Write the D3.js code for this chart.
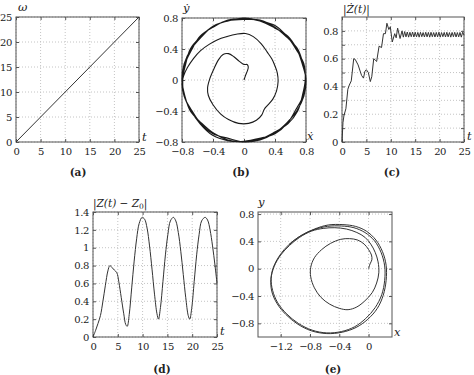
<!DOCTYPE html>
<html>
<head>
<meta charset="utf-8">
<script src="https://cdn.jsdelivr.net/npm/d3@7"></script>
<style>
  body { margin: 0; background: #fff; }
  svg text { font-size: 11px; fill: #222; }
  .grid line { stroke: #c4c4c4; stroke-dasharray: 1,2; }
  .frame { fill: none; stroke: #555; stroke-width: 1; }
  .tick line { stroke: #555; }
  .curve { fill: none; stroke: #333; stroke-width: 1; }
  .cycle { fill: none; stroke: #1a1a1a; stroke-width: 1.1; }
  .lbl { font-style: italic; font-size: 11.5px; }
  .cap { font-weight: bold; font-size: 10.5px; }
</style>
</head>
<body>
<svg id="fig" width="474" height="375"></svg>
<script>

// (a) omega against t
var aT = [0, 25];
var aOmega = [0, 25];
var aTicks = [0, 5, 10, 15, 20, 25];

// (b) velocity plane, spiral then the limit cycle (three passes)
var bX = [0, 0.02, 0.045, 0.055, 0.04, 0.0, -0.06, -0.13, -0.2, -0.27, -0.33, -0.39, -0.44, -0.47, -0.46, -0.4, -0.3, -0.2, -0.07, 0.06, 0.16, 0.23, 0.26, 0.3, 0.37, 0.42, 0.44, 0.43, 0.4, 0.36, 0.3, 0.22, 0.12, 0.02, -0.1, -0.22, -0.34, -0.45, -0.56, -0.65, -0.73, -0.78, -0.8,
  -0.773, -0.684, -0.566, -0.41, -0.21, 0, 0.202, 0.40, 0.559, 0.667, 0.763, 0.80, 0.753, 0.684, 0.566, 0.39, 0.204, 0, -0.204, -0.40, -0.552, -0.684, -0.773, -0.80,
  -0.763, -0.693, -0.552, -0.395, -0.207, 0, 0.204, 0.39, 0.566, 0.693, 0.753, 0.79, 0.773, 0.675, 0.559, 0.405, 0.204, 0, -0.207, -0.395, -0.566, -0.675, -0.763, -0.79,
  -0.773, -0.675, -0.559, -0.40, -0.202, 0, 0.207, 0.395, 0.552, 0.684, 0.773, 0.80, 0.763, 0.693, 0.552, 0.395, 0.207, 0, -0.204, -0.40, -0.559, -0.693, -0.753, -0.80];
var bY = [0, 0.06, 0.12, 0.17, 0.2, 0.2, 0.24, 0.3, 0.34, 0.33, 0.26, 0.14, 0.02, -0.1, -0.2, -0.32, -0.44, -0.51, -0.56, -0.56, -0.52, -0.45, -0.38, -0.33, -0.25, -0.14, -0.02, 0.09, 0.18, 0.27, 0.36, 0.47, 0.56, 0.6, 0.59, 0.56, 0.52, 0.46, 0.38, 0.28, 0.16, 0.05, -0.05,
  -0.207, -0.395, -0.566, -0.71, -0.782, -0.79, -0.753, -0.693, -0.559, -0.385, -0.204, 0, 0.202, 0.395, 0.566, 0.675, 0.763, 0.80, 0.763, 0.693, 0.552, 0.395, 0.207, 0,
  -0.204, -0.40, -0.552, -0.684, -0.773, -0.80, -0.763, -0.675, -0.566, -0.40, -0.202, 0, 0.207, 0.39, 0.559, 0.701, 0.763, 0.79, 0.773, 0.684, 0.566, 0.39, 0.204, 0,
  -0.207, -0.39, -0.559, -0.693, -0.753, -0.80, -0.773, -0.684, -0.552, -0.395, -0.207, 0, 0.204, 0.40, 0.552, 0.684, 0.773, 0.78, 0.763, 0.693, 0.559, 0.40, 0.202, 0];
var bTicks = [-0.8, -0.4, 0, 0.4, 0.8];

// (c) |Zdot(t)|
var cT = [0, 0.2, 0.4, 0.8, 1.2, 1.5, 1.9, 2.4, 2.7, 3.3, 4.0, 4.4, 4.7, 5.0, 5.4, 5.8, 6.1, 6.5, 6.8, 7.1, 7.6, 8.1, 8.5, 8.9, 9.2, 9.6, 9.9, 10.3, 10.8, 11.1, 11.4, 11.9,
  12.3, 12.57, 12.84, 13.11, 13.38, 13.65, 13.92, 14.19, 14.46, 14.73, 15.0, 15.27, 15.54, 15.81, 16.08, 16.35, 16.62, 16.89, 17.16, 17.43, 17.7, 17.97, 18.24, 18.51,
  18.78, 19.05, 19.32, 19.59, 19.86, 20.13, 20.4, 20.67, 20.94, 21.21, 21.48, 21.75, 22.02, 22.29, 22.56, 22.83, 23.1, 23.37, 23.64, 23.91, 24.18, 24.45, 24.72, 25.0];
var cV = [0, 0.14, 0.19, 0.24, 0.38, 0.41, 0.44, 0.6, 0.595, 0.555, 0.48, 0.46, 0.51, 0.52, 0.5, 0.435, 0.47, 0.6, 0.59, 0.58, 0.69, 0.68, 0.78, 0.78, 0.855, 0.81, 0.83, 0.72, 0.78, 0.75, 0.82, 0.745,
  0.80, 0.755, 0.795, 0.757, 0.792, 0.755, 0.79, 0.758, 0.792, 0.756, 0.79, 0.757, 0.789, 0.755, 0.79, 0.758, 0.788, 0.756, 0.79, 0.757, 0.789, 0.755, 0.79, 0.758,
  0.788, 0.756, 0.789, 0.757, 0.79, 0.755, 0.788, 0.758, 0.789, 0.756, 0.79, 0.757, 0.788, 0.755, 0.789, 0.758, 0.79, 0.756, 0.788, 0.757, 0.789, 0.755, 0.79, 0.77];
var cXTicks = [0, 5, 10, 15, 20, 25];
var cYTicks = [0, 0.1, 0.2, 0.3, 0.4, 0.5, 0.6, 0.7, 0.8];

// (d) |Z(t) - Z0|
var dT = [0, 0.5, 1, 1.5, 2, 2.5, 3, 3.4, 3.8, 4.3, 4.8, 5.2, 5.7, 6.2, 6.6, 6.9, 7.3, 7.8, 8.3, 8.8, 9.3, 9.9, 10.4, 10.9, 11.4, 11.9, 12.4, 12.9, 13.2, 13.6, 14.1, 14.6, 15.1, 15.6, 16.2, 16.7, 17.2, 17.7, 18.2, 18.7, 19.2, 19.5, 19.9, 20.4, 20.9, 21.4, 21.9, 22.6, 23.1, 23.6, 24.1, 24.6, 25];
var dV = [0, 0.07, 0.15, 0.24, 0.4, 0.58, 0.74, 0.8, 0.78, 0.75, 0.72, 0.62, 0.44, 0.26, 0.14, 0.12, 0.25, 0.55, 0.85, 1.1, 1.27, 1.34, 1.32, 1.22, 1.02, 0.76, 0.48, 0.26, 0.2, 0.33, 0.62, 0.92, 1.15, 1.3, 1.34, 1.3, 1.17, 0.96, 0.7, 0.44, 0.24, 0.2, 0.32, 0.62, 0.92, 1.15, 1.3, 1.34, 1.31, 1.2, 1.02, 0.8, 0.6];
var dXTicks = [0, 5, 10, 15, 20, 25];
var dYTicks = [0, 0.2, 0.4, 0.6, 0.8, 1, 1.2, 1.4];

// (e) position plane
var eX = [0, 0.02, 0.045, 0.04, 0.0, -0.06, -0.15, -0.26, -0.38, -0.52, -0.64, -0.74, -0.79, -0.79, -0.74, -0.65, -0.53, -0.4, -0.28, -0.16, -0.05, 0.05, 0.11, 0.14, 0.13, 0.09, 0.03, -0.05, -0.16, -0.3, -0.46, -0.62,
  -0.78, -0.94, -1.08, -1.2, -1.29, -1.33, -1.31, -1.24, -1.12, -0.96, -0.77, -0.57, -0.37, -0.19, -0.04, 0.09, 0.18, 0.22, 0.22, 0.17, 0.08, -0.05, -0.2, -0.37, -0.56,
  -0.75, -0.93, -1.09, -1.21, -1.3, -1.335, -1.32, -1.25, -1.13, -0.97, -0.78, -0.57, -0.36, -0.17, -0.01, 0.12, 0.2, 0.24, 0.24, 0.19, 0.1, -0.03, -0.18, -0.35, -0.55, -0.74, -0.93, -1.09];
var eY = [0, 0.07, 0.13, 0.2, 0.28, 0.36, 0.42, 0.44, 0.43, 0.37, 0.28, 0.16, 0.02, -0.12, -0.28, -0.42, -0.52, -0.58, -0.6, -0.56, -0.47, -0.35, -0.21, -0.06, 0.1, 0.24, 0.36, 0.46, 0.53, 0.58, 0.6, 0.59,
  0.55, 0.46, 0.34, 0.2, 0.03, -0.14, -0.32, -0.5, -0.66, -0.8, -0.9, -0.94, -0.92, -0.85, -0.73, -0.57, -0.38, -0.17, 0.04, 0.24, 0.41, 0.53, 0.6, 0.625, 0.62,
  0.57, 0.48, 0.35, 0.2, 0.02, -0.16, -0.34, -0.51, -0.67, -0.81, -0.91, -0.95, -0.93, -0.86, -0.74, -0.58, -0.39, -0.17, 0.05, 0.25, 0.42, 0.55, 0.62, 0.645, 0.64, 0.58, 0.48, 0.35];
var eXTicks = [-1.2, -0.8, -0.4, 0];
var eYTicks = [-0.8, -0.4, 0, 0.4, 0.8];

var svg = d3.select("#fig");
var serif = "'DejaVu Serif', serif";

function fmt(d) {
  var s = String(+Math.abs(d).toFixed(2));
  return (d < 0 ? "\u2212" : "") + s;
}

// builds one framed panel with dotted grid and inward ticks
function panel(o) {
  var g = svg.append("g").attr("transform", "translate(" + o.left + "," + o.top + ")");
  var x = d3.scaleLinear().domain(o.xDomain).range([0, o.w]);
  var y = d3.scaleLinear().domain(o.yDomain).range([o.h, 0]);

  var grid = g.append("g").attr("class", "grid");
  grid.selectAll(".gx").data(o.xTicks).enter().append("line")
    .attr("x1", function(d) { return x(d); }).attr("x2", function(d) { return x(d); })
    .attr("y1", 0).attr("y2", o.h);
  grid.selectAll(".gy").data(o.yTicks).enter().append("line")
    .attr("y1", function(d) { return y(d); }).attr("y2", function(d) { return y(d); })
    .attr("x1", 0).attr("x2", o.w);

  var yFmt = o.yFmt || fmt;
  g.append("g").attr("transform", "translate(0," + o.h + ")")
    .call(d3.axisBottom(x).tickValues(o.xTicks).tickSize(-3).tickPadding(6).tickFormat(fmt));
  g.append("g")
    .call(d3.axisTop(x).tickValues(o.xTicks).tickSize(-3).tickFormat(""));
  g.append("g")
    .call(d3.axisLeft(y).tickValues(o.yTicks).tickSize(-3).tickPadding(4).tickFormat(yFmt));
  g.append("g").attr("transform", "translate(" + o.w + ",0)")
    .call(d3.axisRight(y).tickValues(o.yTicks).tickSize(-3).tickFormat(""));
  g.selectAll(".domain").remove();
  g.selectAll("text").style("font-family", serif).style("font-size", "10px").style("letter-spacing", "-0.4px");

  g.append("rect").attr("class", "frame").attr("width", o.w).attr("height", o.h);
  return { g: g, x: x, y: y };
}

function drawCurve(p, xs, ys, curve, cls) {
  var pts = xs.map(function(d, i) { return [d, ys[i]]; });
  var line = d3.line()
    .x(function(d) { return p.x(d[0]); })
    .y(function(d) { return p.y(d[1]); })
    .curve(curve);
  p.g.append("path").datum(pts).attr("class", cls || "curve").attr("d", line);
}

// (a)
var pa = panel({ left: 16, top: 17, w: 123, h: 125, xDomain: [0, 25], yDomain: [0, 25], xTicks: aTicks, yTicks: aTicks });
drawCurve(pa, aT, aOmega, d3.curveLinear);

// (b)
var pb = panel({ left: 182, top: 18, w: 124, h: 124, xDomain: [-0.8, 0.8], yDomain: [-0.8, 0.8], xTicks: bTicks, yTicks: bTicks });
drawCurve(pb, bX, bY, d3.curveCatmullRom, "cycle");

// (c)
var pc = panel({ left: 342, top: 17, w: 122, h: 125, xDomain: [0, 25], yDomain: [0, 0.9], xTicks: cXTicks, yTicks: cYTicks,
  yFmt: function(d) { return Math.round(d * 10) % 2 === 0 ? fmt(d) : ""; } });
drawCurve(pc, cT, cV, d3.curveLinear);

// (d)
var pd = panel({ left: 93, top: 212, w: 124, h: 125, xDomain: [0, 25], yDomain: [0, 1.4], xTicks: dXTicks, yTicks: dYTicks });
drawCurve(pd, dT, dV, d3.curveCatmullRom);

// (e)
var pe = panel({ left: 258, top: 212, w: 134, h: 125, xDomain: [-1.51, 0.32], yDomain: [-1.0, 0.83], xTicks: eXTicks, yTicks: eYTicks });
drawCurve(pe, eX, eY, d3.curveCatmullRom);

// axis symbols
function lbl(x, y, t, anchor) {
  return svg.append("text").attr("class", "lbl").style("font-family", serif)
    .attr("x", x).attr("y", y).attr("text-anchor", anchor || "start").text(t);
}
lbl(18, 11, "\u03c9");
lbl(142, 141, "t");
lbl(183, 12, "\u1e8f");
lbl(307, 140, "\u1e8b");
var zc = lbl(343, 13, "").style("font-size", "10.5px");
zc.append("tspan").style("font-style", "normal").text("|");
zc.append("tspan").text("\u017b(t)");
zc.append("tspan").style("font-style", "normal").text("|");
lbl(467, 140, "t");
var zd = lbl(93, 207, "").style("font-size", "10.5px");
zd.append("tspan").style("font-style", "normal").text("|");
zd.append("tspan").text("Z(t)");
zd.append("tspan").style("font-style", "normal").text(" \u2212 ");
zd.append("tspan").text("Z");
zd.append("tspan").attr("dy", 2).style("font-size", "7.5px").style("font-style", "normal").text("0");
zd.append("tspan").attr("dy", -2).style("font-style", "normal").text("|");
lbl(220, 335, "t");
lbl(258, 206, "y");
lbl(394, 336, "x");

// panel captions
var caps = [["(a)", 78, 176], ["(b)", 241, 176], ["(c)", 392, 176], ["(d)", 162, 373], ["(e)", 333, 373]];
caps.forEach(function(c) {
  svg.append("text").attr("class", "cap").style("font-family", serif)
    .attr("x", c[1]).attr("y", c[2]).attr("text-anchor", "middle").text(c[0]);
});
</script>
</body>
</html>
